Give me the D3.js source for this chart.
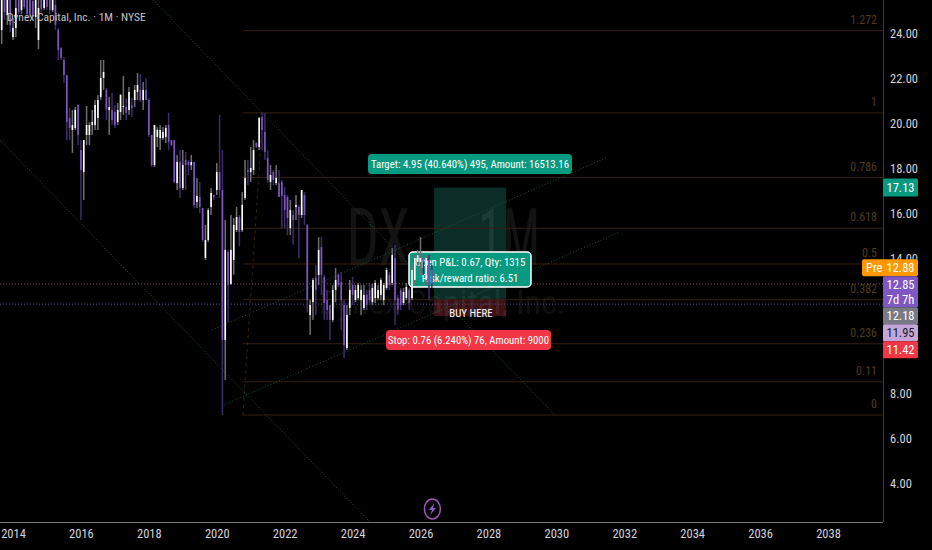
<!DOCTYPE html>
<html>
<head>
<meta charset="utf-8">
<script src="https://cdn.jsdelivr.net/npm/d3@7"></script>
<style>
    html, body { margin: 0; padding: 0; background: #000; overflow: hidden; }
    text { font-family: "Liberation Sans Narrow", "Roboto Condensed", sans-serif; }
</style>
</head>
<body>
<div id="chart"></div>
<script>
// monthly candles, first one is Sep 2013
var firstMonth = 2013 + 8 / 12;
var opens = [
    24.13,25.69,24.8,25.56,23.82,24.22,25.6,25.02,25.64,25.51,
    25.47,25.42,24.71,23.69,25.56,25.11,25.6,25.56,25.02,25.24,
    24.13,23.33,22.8,22.13,20.22,19.69,19.78,20.8,18.8,17.82,
    19.47,19.47,19.91,19.91,20.22,21.16,22.0,21.47,20.58,20.58,
    20.49,20.04,20.49,20.71,20.71,20.58,20.8,21.02,21.38,21.47,
    21.02,21.47,21.02,19.47,18.13,19.38,19.33,19.33,19.38,19.91,
    19.24,19.24,17.33,18.27,17.11,18.36,18.27,18.13,18.27,16.49,
    16.71,16.22,14.0,14.8,16.27,16.8,17.02,17.82,17.02,10.36,
    14.27,12.85,13.91,15.24,15.82,15.24,16.67,17.91,17.82,17.91,
    19.11,18.93,20.27,19.6,18.45,17.38,17.82,17.33,17.33,17.38,
    16.8,16.71,15.33,15.91,16.27,16.27,15.91,16.8,15.47,11.47,
    12.04,13.11,13.25,14.49,13.16,12.13,11.91,11.25,12.58,13.25,
    12.93,11.91,10.0,11.78,12.8,12.13,12.22,12.13,11.78,12.36,
    12.58,12.04,12.22,12.22,12.36,12.13,12.67,13.25,12.89,14.0,
    12.22,12.58,12.0,12.22,12.58,12.22,13.02,13.82,13.82,14.0,
    13.02,13.91,13.47
];
var highs = [
    25.91,25.91,25.69,25.69,24.67,25.69,25.82,25.82,25.82,25.64,
    25.64,25.56,25.56,25.47,25.73,25.73,25.73,25.73,25.6,25.56,
    24.22,23.38,22.93,22.13,20.67,20.58,20.71,20.85,19.24,19.24,
    20.76,20.04,20.58,21.02,21.25,22.8,22.8,21.56,21.16,21.33,
    20.8,20.89,21.29,22.09,21.11,21.6,21.11,21.69,22.22,22.18,
    21.82,22.0,21.11,19.47,19.91,19.82,19.91,19.82,19.91,20.45,
    19.24,19.24,18.58,18.8,18.8,18.71,18.36,18.58,18.27,17.56,
    17.38,16.22,15.47,16.22,17.11,16.8,18.22,20.36,18.8,15.69,
    14.36,15.91,15.78,16.27,15.91,16.93,18.36,18.36,18.93,19.24,
    19.16,20.27,20.45,20.45,18.8,18.13,17.91,18.13,17.91,17.47,
    17.16,16.8,16.58,16.13,16.8,16.36,17.02,16.93,15.51,12.13,
    13.11,13.69,14.93,14.93,13.25,12.58,11.91,12.8,13.56,13.33,
    13.38,12.13,11.91,13.02,13.16,12.8,12.89,12.8,12.8,12.58,
    12.8,12.85,13.02,12.8,13.11,12.89,13.56,13.38,14.44,14.58,
    12.36,12.67,12.67,12.89,12.67,13.69,14.13,14.36,14.93,14.0,
    14.13,14.13,13.69
];
var lows = [
    23.51,24.58,24.36,24.04,23.69,23.82,24.84,24.84,25.07,24.67,
    24.67,24.58,24.22,23.29,24.93,25.02,25.02,24.84,24.93,24.13,
    22.8,22.8,21.78,19.24,19.24,18.67,19.69,19.02,15.69,16.58,
    19.02,19.02,19.47,19.69,19.69,21.02,21.47,20.13,19.47,19.91,
    19.78,19.91,20.13,20.36,20.13,20.36,20.27,20.71,21.02,20.93,
    20.58,21.02,19.38,18.04,18.04,18.93,18.8,19.24,19.11,18.8,
    18.98,17.33,17.02,16.67,17.02,17.02,17.69,17.91,16.22,16.22,
    16.0,14.71,13.91,14.71,15.91,16.58,16.8,16.67,7.02,8.58,
    11.16,12.8,13.25,15.16,14.53,15.16,16.58,17.24,17.38,17.69,
    18.89,18.8,18.8,18.36,17.33,17.02,17.24,17.24,16.71,15.33,
    15.33,15.02,15.02,14.58,15.69,14.0,15.78,15.47,11.6,10.58,
    11.25,11.47,12.8,12.36,11.25,11.25,10.36,11.16,12.04,12.71,
    10.8,9.56,9.91,11.47,11.91,12.04,12.13,11.47,11.69,11.69,
    11.91,11.91,12.0,12.13,12.13,11.91,12.58,12.58,12.8,11.02,
    11.47,11.69,11.91,12.13,11.69,12.13,12.8,13.56,13.25,13.25,
    12.8,12.13,12.67
];
var closes = [
    25.69,24.93,25.56,24.36,24.22,25.11,24.93,25.6,25.16,24.84,
    24.8,24.76,25.47,25.11,25.07,25.56,25.16,25.02,25.47,24.36,
    23.24,22.89,22.13,20.04,19.78,19.91,20.58,19.47,17.91,19.24,
    19.91,19.91,20.04,20.8,21.02,22.0,22.27,20.62,20.71,20.13,
    19.91,20.58,21.25,20.76,20.45,21.38,20.67,21.47,21.69,21.02,
    21.47,21.02,19.47,18.13,19.91,19.69,19.69,19.6,19.78,19.16,
    19.02,17.38,18.27,17.11,18.13,18.13,18.13,18.27,16.36,16.76,
    16.27,14.8,14.8,16.13,16.89,16.71,17.82,17.02,10.36,14.36,
    12.8,14.36,15.47,15.82,15.16,16.36,17.56,17.82,18.0,18.8,
    18.93,20.22,19.69,18.71,17.47,17.69,17.47,17.56,16.71,16.76,
    16.13,15.78,16.13,15.69,16.36,15.91,17.02,15.91,12.13,11.91,
    13.02,12.58,14.36,13.25,12.0,11.69,11.25,12.58,13.02,12.8,
    12.13,10.13,11.47,12.58,12.36,12.58,12.8,12.58,12.36,11.91,
    12.13,12.67,12.89,12.58,13.02,12.8,13.47,12.8,14.13,12.13,
    11.69,11.91,12.49,12.71,12.0,13.47,14.0,14.13,14.0,13.82,
    14.0,12.8,12.85
];

var yearTicks = [2014,2016,2018,2020,2022,2024,2026,2028,2030,2032,2034,2036,2038];
// 10 and 12 sit behind the price tags, so they are left out
var priceTicks = [4,6,8,14,16,18,20,22,24];

// fib retracement
var fibLevels = [1.272,1,0.786,0.618,0.5,0.382,0.236,0.11,0];
var fibLow = 7.02, fibHigh = 20.45;
var fibStart = 2020.77;

// [year1, price1, year2, price2]
var trendLines = [
    [2018.12,25.47,2029.96,7.02],
    [2013.62,19.24,2024.51,2.27],
    [2019.86,10.8,2031.52,18.49],
    [2020.21,7.47,2031.87,15.16]
];
var fibLink = [2020.77,7.02,2021.36,20.45];

// long position tool
var posStart = 2026.40, posEnd = 2028.52;
var posTarget = 17.13, posEntry = 12.18, posStop = 11.42;

var lastPrice = 12.85, dottedPrice = 11.95;

var width = 932, height = 550, axisX = 883, axisY = 522;
var greenCol = "#089981", redCol = "#f23645", purple = "#7e57c2";
var fontName = '"Liberation Sans Narrow", "Roboto Condensed", sans-serif';

var x = d3.scaleLinear().domain([2014, 2038]).range([13, 828]);
var y = d3.scaleLinear().domain([4, 24]).range([483, 33]);

var svg = d3.select("#chart").append("svg")
    .attr("width", width)
    .attr("height", height)
    .style("display", "block")
    .style("background", "#000");

svg.append("clipPath").attr("id", "plot").append("rect")
    .attr("width", axisX).attr("height", axisY);

var plot = svg.append("g").attr("clip-path", "url(#plot)");

// position boxes
plot.append("rect")
    .attr("x", x(posStart)).attr("y", y(posTarget))
    .attr("width", x(posEnd) - x(posStart))
    .attr("height", y(posEntry) - y(posTarget))
    .attr("fill", "#0a2d28");
plot.append("rect")
    .attr("x", x(posStart)).attr("y", y(posEntry))
    .attr("width", x(posEnd) - x(posStart))
    .attr("height", y(posStop) - y(posEntry))
    .attr("fill", "#3d1216");

// watermark
var mark = plot.append("g").attr("fill", "#fff").attr("fill-opacity", 0.075)
    .attr("text-anchor", "middle");
mark.append("text").attr("x", 378).attr("y", 265)
    .attr("font-size", 80).attr("textLength", 63).attr("lengthAdjust", "spacingAndGlyphs").text("DX");
mark.append("text").attr("x", 509).attr("y", 265)
    .attr("font-size", 80).attr("textLength", 62).attr("lengthAdjust", "spacingAndGlyphs").text("1M");
mark.append("text").attr("x", 442).attr("y", 314)
    .attr("font-size", 34).text("Dynex Capital, Inc.");

// fib lines and labels
plot.selectAll(".fib").data(fibLevels).enter().append("line")
    .attr("class", "fib")
    .attr("x1", x(fibStart)).attr("x2", axisX)
    .attr("y1", function(d) { return y(fibLow + (fibHigh - fibLow) * d); })
    .attr("y2", function(d) { return y(fibLow + (fibHigh - fibLow) * d); })
    .attr("stroke", "#36200e");
plot.selectAll(".fibLabel").data(fibLevels).enter().append("text")
    .attr("class", "fibLabel")
    .attr("x", 877)
    .attr("y", function(d) { return y(fibLow + (fibHigh - fibLow) * d) - 7; })
    .attr("text-anchor", "end")
    .attr("font-size", 12)
    .attr("fill", "#4f3a1c")
    .text(function(d) { return d; });

plot.append("line")
    .attr("x1", x(fibLink[0])).attr("y1", y(fibLink[1]))
    .attr("x2", x(fibLink[2])).attr("y2", y(fibLink[3]))
    .attr("stroke", "#3a240d")
    .attr("stroke-dasharray", "3,4");

// trend lines
plot.selectAll(".trend").data(trendLines).enter().append("line")
    .attr("class", "trend")
    .attr("x1", function(d) { return x(d[0]); })
    .attr("y1", function(d) { return y(d[1]); })
    .attr("x2", function(d) { return x(d[2]); })
    .attr("y2", function(d) { return y(d[3]); })
    .attr("stroke", "#1d5a30")
    .attr("stroke-dasharray", "1,2");

// price lines
plot.append("line")
    .attr("x1", 0).attr("x2", axisX)
    .attr("y1", y(lastPrice)).attr("y2", y(lastPrice))
    .attr("stroke", "#8a5a66").attr("stroke-dasharray", "1,2");
plot.append("line")
    .attr("x1", 0).attr("x2", axisX)
    .attr("y1", y(dottedPrice)).attr("y2", y(dottedPrice))
    .attr("stroke", "#5b4a92").attr("stroke-dasharray", "1,2");

// order labels, candles stay on top of them
function tag(cx, top, w, h, fill, lines, border) {
    var g = plot.append("g");
    g.append("rect")
        .attr("x", cx - w / 2).attr("y", top)
        .attr("width", w).attr("height", h)
        .attr("rx", 4)
        .attr("fill", fill)
        .attr("stroke", border || "none")
        .attr("stroke-width", 1.5);
    lines.forEach(function(t, i) {
        g.append("text")
            .attr("x", cx)
            .attr("y", top + 14 + i * 15.5)
            .attr("text-anchor", "middle")
            .attr("font-size", 10.8)
            .attr("fill", "#fff")
            .text(t);
    });
}
tag(470, 154, 204, 20, greenCol, ["Target: 4.95 (40.640%) 495, Amount: 16513.16"]);
tag(470, 252, 122, 35, greenCol, ["Open P&L: 0.67, Qty: 1315", "Risk/reward ratio: 6.51"], "#fff");
tag(468.5, 330, 165, 20, redCol, ["Stop: 0.76 (6.240%) 76, Amount: 9000"]);
plot.append("text")
    .attr("x", 471).attr("y", 317)
    .attr("text-anchor", "middle")
    .attr("font-size", 10.8)
    .attr("fill", "#fff")
    .text("BUY HERE");

// candles
function candleX(i) { return x(firstMonth + i / 12); }
function isUp(i) { return closes[i] >= opens[i]; }

plot.selectAll(".wick").data(opens).enter().append("rect")
    .attr("class", "wick")
    .attr("x", function(d, i) { return candleX(i) - 0.75; })
    .attr("y", function(d, i) { return y(highs[i]); })
    .attr("width", 1.5)
    .attr("height", function(d, i) { return y(lows[i]) - y(highs[i]); })
    .attr("fill", function(d, i) { return isUp(i) ? "#6e6e6e" : "#3d2c6b"; });

plot.selectAll(".body").data(opens).enter().append("rect")
    .attr("class", "body")
    .attr("x", function(d, i) { return candleX(i) - 0.8; })
    .attr("y", function(d, i) { return y(Math.max(opens[i], closes[i])); })
    .attr("width", 1.6)
    .attr("height", function(d, i) { return Math.max(1, Math.abs(y(opens[i]) - y(closes[i]))); })
    .attr("fill", function(d, i) { return isUp(i) ? "#fff" : purple; });

// lightning marker
var bolt = plot.append("g")
    .attr("transform", "translate(" + x(2026.35) + ",509)");
bolt.append("ellipse").attr("rx", 8).attr("ry", 10)
    .attr("fill", "none").attr("stroke", "#9b59b6").attr("stroke-width", 1.5);
bolt.append("path")
    .attr("d", "M2,-6 L-3.5,1 L-0.5,1 L-2,6 L3.5,-1 L0.5,-1 Z")
    .attr("fill", "#8e5bd0");

// title
svg.append("text")
    .attr("x", 7).attr("y", 21)
    .attr("font-size", 11.5)
    .attr("fill", "#c4c4c4")
    .text("Dynex Capital, Inc. \u00b7 1M \u00b7 NYSE");

// axes
var xAxis = d3.axisBottom(x)
    .tickValues(yearTicks)
    .tickFormat(d3.format("d"))
    .tickSize(0)
    .tickPadding(7);
var gx = svg.append("g")
    .attr("transform", "translate(0," + axisY + ")")
    .call(xAxis);
gx.select(".domain").remove();
gx.selectAll("text").attr("font-size", 12.5).attr("fill", "#d1d4dc")
    .style("font-family", fontName);
svg.append("line")
    .attr("x1", 0).attr("x2", axisX)
    .attr("y1", axisY + 0.5).attr("y2", axisY + 0.5)
    .attr("stroke", "#777");

var yAxis = d3.axisRight(y)
    .tickValues(priceTicks)
    .tickFormat(d3.format(".2f"))
    .tickSize(0)
    .tickPadding(7);
var gy = svg.append("g")
    .attr("transform", "translate(" + axisX + ",0)")
    .call(yAxis);
gy.select(".domain").remove();
gy.selectAll("text").attr("font-size", 12.5).attr("fill", "#d1d4dc")
    .style("font-family", fontName);
svg.append("line")
    .attr("x1", axisX + 0.5).attr("x2", axisX + 0.5)
    .attr("y1", 0).attr("y2", axisY)
    .attr("stroke", "#3a3a3a");

// price tags on the scale
function scaleTag(top, h, fill, txt, txtFill) {
    svg.append("rect")
        .attr("x", axisX).attr("y", top)
        .attr("width", 35).attr("height", h)
        .attr("rx", 1.5)
        .attr("fill", fill);
    txt.forEach(function(t, i) {
        svg.append("text")
            .attr("x", axisX + 17.5)
            .attr("y", top + 13 + i * 15)
            .attr("text-anchor", "middle")
            .attr("font-size", 12.5)
            .attr("fill", txtFill || "#fff")
            .text(t);
    });
}
scaleTag(y(17.13) - 9, 18, greenCol, ["17.13"]);

// tags below the premarket one are pushed down so they do not overlap
var stackTop = y(12.88) - 24;
svg.append("rect").attr("x", 862).attr("y", stackTop)
    .attr("width", 56).attr("height", 17).attr("rx", 2).attr("fill", "#ff9800");
svg.append("text").attr("x", 866).attr("y", stackTop + 13)
    .attr("font-size", 12.5).attr("fill", "#fff").text("Pre");
svg.append("text").attr("x", axisX + 17.5).attr("y", stackTop + 13)
    .attr("text-anchor", "middle").attr("font-size", 12.5).attr("fill", "#fff").text("12.88");
scaleTag(stackTop + 17, 31, purple, ["12.85", "7d 7h"]);
scaleTag(stackTop + 48, 17, "#787b86", ["12.18"]);
scaleTag(stackTop + 65, 17, "#c3a5d8", ["11.95"], "#1a1a1a");
scaleTag(stackTop + 82, 17, redCol, ["11.42"]);
</script>
</body>
</html>
